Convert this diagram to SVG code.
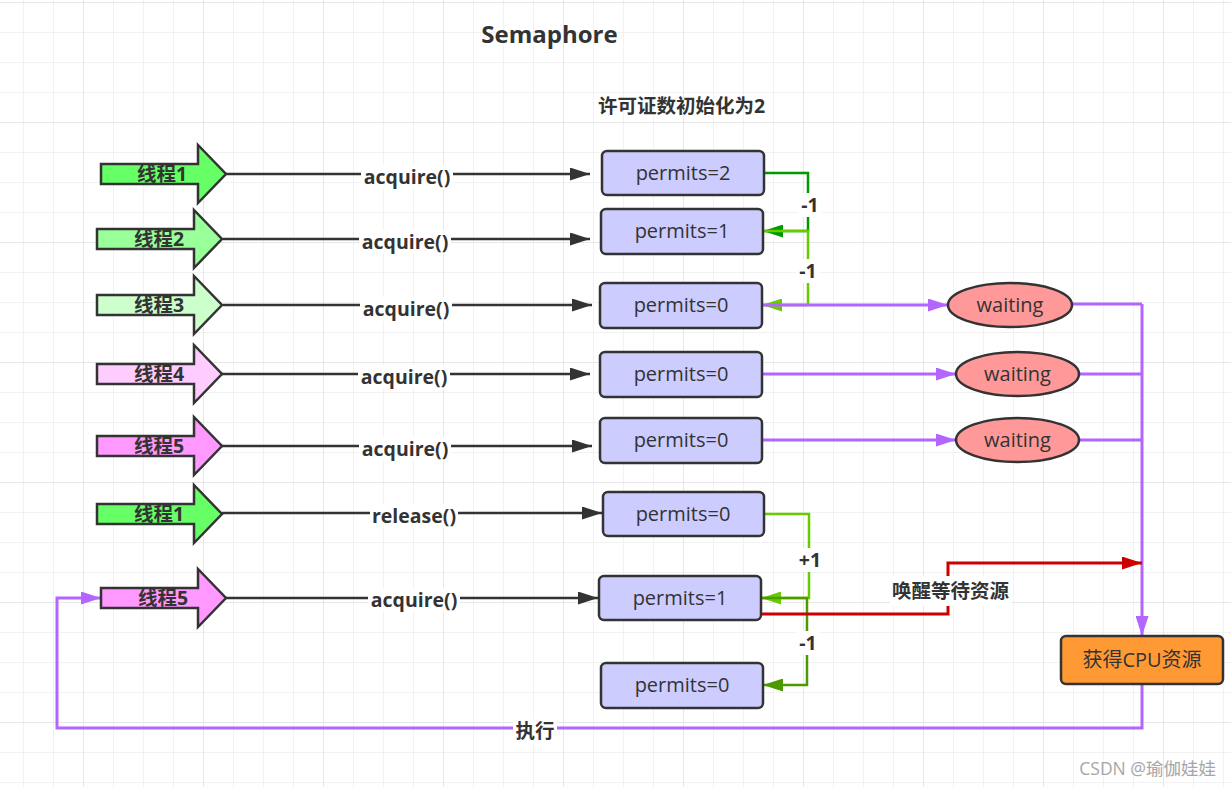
<svg xmlns="http://www.w3.org/2000/svg" width="1231" height="787" viewBox="0 0 1231 787">
<style>
.lbl{font-family:"Open Sans","Noto Sans CJK SC",sans-serif;font-weight:bold;font-size:19.5px;fill:#333;text-anchor:middle}
.ntx{font-family:"Open Sans","Noto Sans CJK SC",sans-serif;font-size:20px;fill:#333;text-anchor:middle}
.thr{stroke:#333;stroke-width:2.5;stroke-linejoin:miter}
.box{fill:#ccccff;stroke:#333;stroke-width:2.5}
.wait{fill:#ff9999;stroke:#333;stroke-width:2.5}
.bg{fill:#fff}
.c{fill:none}
</style>
<defs>
<pattern id="gmin" x="23" y="2" width="30" height="30" patternUnits="userSpaceOnUse">
<path d="M0,0 H30 M0,0 V30" fill="none" stroke="#eeeeee" stroke-width="1.5"/>
</pattern>
<pattern id="gmaj" x="83" y="2" width="120" height="120" patternUnits="userSpaceOnUse">
<path d="M0,0 H120 M0,0 V120" fill="none" stroke="#e3e3e3" stroke-width="1.5"/>
</pattern>
<marker id="mk" markerUnits="userSpaceOnUse" markerWidth="20" markerHeight="13" refX="20" refY="6.5" orient="auto"><path d="M0,0 L20,6.5 L0,13 z" fill="#333"/></marker>
<marker id="mp" markerUnits="userSpaceOnUse" markerWidth="20" markerHeight="13" refX="20" refY="6.5" orient="auto"><path d="M0,0 L20,6.5 L0,13 z" fill="#b266ff"/></marker>
<marker id="mr" markerUnits="userSpaceOnUse" markerWidth="20" markerHeight="13" refX="20" refY="6.5" orient="auto"><path d="M0,0 L20,6.5 L0,13 z" fill="#cc0000"/></marker>
<marker id="mg1" markerUnits="userSpaceOnUse" markerWidth="20" markerHeight="13" refX="20" refY="6.5" orient="auto"><path d="M0,0 L20,6.5 L0,13 z" fill="#009900"/></marker>
<marker id="mg2" markerUnits="userSpaceOnUse" markerWidth="20" markerHeight="13" refX="20" refY="6.5" orient="auto"><path d="M0,0 L20,6.5 L0,13 z" fill="#66cc00"/></marker>
<marker id="mg3" markerUnits="userSpaceOnUse" markerWidth="20" markerHeight="13" refX="20" refY="6.5" orient="auto"><path d="M0,0 L20,6.5 L0,13 z" fill="#4d9900"/></marker>
<polygon id="arr" points="0,-10 97,-10 97,-29 125,0 97,29 97,10 0,10" class="thr"/>
</defs>
<rect width="1231" height="787" fill="#fff"/>
<rect width="1231" height="787" fill="url(#gmin)"/>
<rect width="1231" height="787" fill="url(#gmaj)"/>

<text class="lbl" x="549.5" y="43" style="font-size:24px">Semaphore</text>
<text class="lbl" x="681.5" y="113">许可证数初始化为2</text>

<g id="connectors">
<g stroke="#333" stroke-width="2.5">
<path class="c" d="M226,174 H590" marker-end="url(#mk)"/>
<path class="c" d="M223,239 H590" marker-end="url(#mk)"/>
<path class="c" d="M223,305 H592" marker-end="url(#mk)"/>
<path class="c" d="M222,374 H590" marker-end="url(#mk)"/>
<path class="c" d="M222,446 H592" marker-end="url(#mk)"/>
<path class="c" d="M222,513 H602" marker-end="url(#mk)"/>
<path class="c" d="M225,598 H598" marker-end="url(#mk)"/>
</g>
<path class="c" d="M764,173 H808 V231 H763" stroke="#009900" stroke-width="2.5" marker-end="url(#mg1)"/>
<path class="c" d="M763,231 H808 V305 H762" stroke="#66cc00" stroke-width="2.5" marker-end="url(#mg2)"/>
<path class="c" d="M764,514 H809 V598 H761" stroke="#66cc00" stroke-width="2.5" marker-end="url(#mg2)"/>
<path class="c" d="M761,598 H807 V685 H763" stroke="#4d9900" stroke-width="2.5" marker-end="url(#mg3)"/>
<g stroke="#b266ff" stroke-width="3">
<path class="c" d="M762,305 H948" marker-end="url(#mp)"/>
<path class="c" d="M762,374 H956" marker-end="url(#mp)"/>
<path class="c" d="M762,440 H956" marker-end="url(#mp)"/>
<path class="c" d="M1072,304 H1142 M1079,374 H1142 M1079,440 H1142"/>
<path class="c" d="M1142,304 V636" marker-end="url(#mp)"/>
<path class="c" d="M1142,684 V728 H57 V598 H101" marker-end="url(#mp)"/>
</g>
<path class="c" d="M761,614 H948 V563 H1142" stroke="#cc0000" stroke-width="3" marker-end="url(#mr)"/>

<rect class="bg" x="361" y="165" width="92" height="24"/>
<text class="lbl" x="407" y="184">acquire()</text>
<rect class="bg" x="359" y="230" width="92" height="24"/>
<text class="lbl" x="405" y="249">acquire()</text>
<rect class="bg" x="360" y="297" width="92" height="24"/>
<text class="lbl" x="406" y="316">acquire()</text>
<rect class="bg" x="358" y="365" width="92" height="24"/>
<text class="lbl" x="404" y="384">acquire()</text>
<rect class="bg" x="359" y="437" width="92" height="24"/>
<text class="lbl" x="405" y="456">acquire()</text>
<rect class="bg" x="370" y="504" width="88" height="24"/>
<text class="lbl" x="414" y="523">release()</text>
<rect class="bg" x="368" y="588" width="92" height="24"/>
<text class="lbl" x="414" y="607">acquire()</text>

<rect class="bg" x="798" y="193" width="24" height="24"/>
<text class="lbl" x="810" y="212">-1</text>
<rect class="bg" x="796" y="259" width="24" height="24"/>
<text class="lbl" x="808" y="278">-1</text>
<rect class="bg" x="795" y="548" width="30" height="24"/>
<text class="lbl" x="810" y="567">+1</text>
<rect class="bg" x="796" y="631" width="24" height="24"/>
<text class="lbl" x="808" y="650">-1</text>

<rect class="bg" x="890" y="576" width="121" height="30"/>
<text class="lbl" x="950.5" y="598">唤醒等待资源</text>
<rect class="bg" x="513" y="719" width="44" height="24"/>
<text class="lbl" x="535" y="738">执行</text>
</g>

<g id="t1a"><use href="#arr" x="101" y="174" fill="#66ff66"/><text class="lbl" x="162" y="181">线程1</text></g>
<g id="t2"><use href="#arr" x="97" y="239" fill="#99ff99"/><text class="lbl" x="159" y="246">线程2</text></g>
<g id="t3"><use href="#arr" x="97" y="305" fill="#ccffcc"/><text class="lbl" x="159" y="312">线程3</text></g>
<g id="t4"><use href="#arr" x="97" y="374" fill="#ffccff"/><text class="lbl" x="159" y="381">线程4</text></g>
<g id="t5a"><use href="#arr" x="97" y="446" fill="#ff99ff"/><text class="lbl" x="159" y="453">线程5</text></g>
<g id="t1b"><use href="#arr" x="97" y="514" fill="#66ff66"/><text class="lbl" x="159" y="521">线程1</text></g>
<g id="t5b"><use href="#arr" x="101" y="598" fill="#ff99ff"/><text class="lbl" x="163" y="605">线程5</text></g>

<g id="p1"><rect class="box" x="602" y="151" width="162" height="44" rx="5"/><text class="ntx" x="683" y="180">permits=2</text></g>
<g id="p2"><rect class="box" x="601" y="209" width="162" height="45" rx="5"/><text class="ntx" x="682" y="238">permits=1</text></g>
<g id="p3"><rect class="box" x="600" y="283" width="162" height="45" rx="5"/><text class="ntx" x="681" y="312">permits=0</text></g>
<g id="p4"><rect class="box" x="600" y="352" width="162" height="45" rx="5"/><text class="ntx" x="681" y="381">permits=0</text></g>
<g id="p5"><rect class="box" x="600" y="418" width="162" height="45" rx="5"/><text class="ntx" x="681" y="447">permits=0</text></g>
<g id="p6"><rect class="box" x="603" y="492" width="161" height="44" rx="5"/><text class="ntx" x="683" y="521">permits=0</text></g>
<g id="p7"><rect class="box" x="599" y="576" width="162" height="44" rx="5"/><text class="ntx" x="680" y="605">permits=1</text></g>
<g id="p8"><rect class="box" x="601" y="663" width="162" height="45" rx="5"/><text class="ntx" x="682" y="692">permits=0</text></g>

<g id="w1"><ellipse class="wait" cx="1010" cy="305" rx="62" ry="22"/><text class="ntx" x="1010" y="312">waiting</text></g>
<g id="w2"><ellipse class="wait" cx="1017.5" cy="374" rx="61.5" ry="22"/><text class="ntx" x="1017.5" y="381">waiting</text></g>
<g id="w3"><ellipse class="wait" cx="1017.5" cy="440" rx="61.5" ry="22"/><text class="ntx" x="1017.5" y="447">waiting</text></g>

<g id="cpu"><rect x="1061" y="636" width="162" height="48" rx="5" fill="#ff9933" stroke="#333" stroke-width="2.5"/><text class="ntx" x="1142" y="667">获得CPU资源</text></g>

<text x="1216" y="775" style="font-family:'Open Sans','Noto Sans CJK SC',sans-serif;font-size:17.5px;fill:#a6a6a6;text-anchor:end">CSDN @瑜伽娃娃</text>
</svg>
